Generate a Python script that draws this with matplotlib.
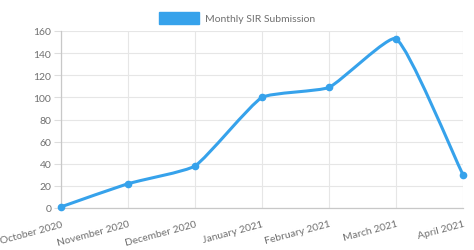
import matplotlib.pyplot as plt
import numpy as np
from matplotlib.path import Path
from matplotlib.patches import PathPatch, Patch

months = ['October 2020', 'November 2020', 'December 2020', 'January 2021',
          'February 2021', 'March 2021', 'April 2021']
submissions = [1, 22, 38, 100, 109, 153, 30]
yticks = [0, 20, 40, 60, 80, 100, 120, 140, 160]

blue = '#36A2EB'
grey = '#707070'

plt.rcParams['font.family'] = ['Lato', 'DejaVu Sans']

fig = plt.figure(figsize=(4.74, 2.51), dpi=100)
ax = fig.add_axes([61 / 474, 42 / 251, 402 / 474, 177 / 251])

x = np.arange(len(months))
ax.set_xlim(0, len(months) - 1)
ax.set_ylim(0, 160)

# slightly smoothed curve (bezier), control points computed in pixel space
sx = 402 / (len(months) - 1)
sy = 177 / 160
px = x * sx
py = np.array(submissions) * sy
t = 0.15
verts = [(px[0], py[0])]
codes = [Path.MOVETO]
cps = []
for i in range(len(px)):
    p0 = (px[max(i - 1, 0)], py[max(i - 1, 0)])
    p2 = (px[min(i + 1, len(px) - 1)], py[min(i + 1, len(px) - 1)])
    d01 = np.hypot(px[i] - p0[0], py[i] - p0[1])
    d12 = np.hypot(p2[0] - px[i], p2[1] - py[i])
    tot = d01 + d12 if d01 + d12 else 1
    fa = t * d01 / tot
    fb = t * d12 / tot
    prev = (px[i] - fa * (p2[0] - p0[0]), py[i] - fa * (p2[1] - p0[1]))
    nxt = (px[i] + fb * (p2[0] - p0[0]), py[i] + fb * (p2[1] - p0[1]))
    cps.append((prev, nxt))
for i in range(1, len(px)):
    verts += [cps[i - 1][1], cps[i][0], (px[i], py[i])]
    codes += [Path.CURVE4] * 3
verts = [(vx / sx, vy / sy) for vx, vy in verts]
ax.add_patch(PathPatch(Path(verts, codes), fill=False, edgecolor=blue, lw=2.2,
                       zorder=3, clip_on=False, capstyle='round', joinstyle='round'))
ax.plot(x, submissions, 'o', color=blue, ms=4.5, zorder=4, clip_on=False)

ax.set_xticks(x)
ax.set_xticklabels(months, rotation=15, ha='right', rotation_mode='anchor')
ax.set_yticks(yticks)
ax.tick_params(axis='x', length=0, pad=8, labelsize=7.5, labelcolor=grey)
ax.tick_params(axis='y', length=5, pad=2, labelsize=7.5, labelcolor=grey, color='#dddddd')
ax.grid(True, color='#e6e6e6', lw=0.8)
ax.set_axisbelow(True)
for s in ['top', 'right']:
    ax.spines[s].set_visible(False)
for s in ['left', 'bottom']:
    ax.spines[s].set_color('#c8c8c8')
    ax.spines[s].set_linewidth(0.9)

fig.legend(handles=[Patch(facecolor=blue, edgecolor=blue, label='Monthly SIR Submission')],
           loc='center', bbox_to_anchor=(0.5, 1 - 19 / 251), frameon=False,
           fontsize=7.5, labelcolor=grey, handlelength=3.8, handleheight=1.3,
           handletextpad=0.6)

fig.savefig('out.png', dpi=100)
